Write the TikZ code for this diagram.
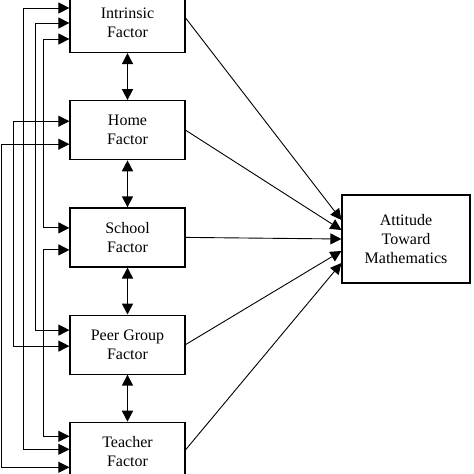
\documentclass[tikz,border=0pt]{standalone}
\usepackage{fontspec}
\setmainfont{Liberation Serif}
\usepackage{tikz}
\usetikzlibrary{positioning,arrows.meta}
\newcommand{\ecart}{47pt}
\newcommand{\larg}{115pt}
\tikzstyle{boite}=[draw,line width=1.2pt,minimum width=\larg,minimum height=59pt,align=center,inner sep=2pt,font=\fontsize{16}{19}\selectfont]
\tikzstyle{lien}=[line width=0.9pt,<->]
\tikzstyle{fleche}=[line width=0.9pt,->]
\begin{document}
\begin{tikzpicture}[x=1pt,y=1pt,>={Triangle[length=11pt,width=11pt]}]
\useasboundingbox (0,0) rectangle (474,-474);

\node[boite] (intr) at (127.5,-23) {Intrinsic\\Factor};
\node[boite,below=\ecart of intr] (home) {Home\\Factor};
\node[boite,below=\ecart of home] (school) {School\\Factor};
\node[boite,below=\ecart of school] (peer) {Peer Group\\Factor};
\node[boite,below=\ecart of peer] (teacher) {Teacher\\Factor};

\node[boite,minimum width=128pt,minimum height=88pt] (att) at (406,-239) {Attitude\\Toward\\Mathematics};

%liens entre facteurs voisins
\draw[line width=1.6pt,<->] (intr) -- (home);
\draw[line width=1.6pt,<->] (home) -- (school);
\draw[line width=1.6pt,<->] (school) -- (peer);
\draw[line width=1.6pt,<->] (peer) -- (teacher);

%liens a gauche
\draw[lien] ([yshift=-16pt]intr.west) -- ++(-26,0) |- ([yshift=9.5pt]school.west);
\draw[lien] ([yshift=-12.5pt]school.west) -- ++(-26,0) |- ([yshift=15.5pt]teacher.west);
\draw[lien] (intr.west) -- ++(-34,0) |- ([yshift=14.5pt]peer.west);
\draw[lien] ([yshift=9pt]home.west) -- ++(-56,0) |- ([yshift=-1.5pt]peer.west);
\draw[lien] ([yshift=15pt]intr.west) -- ++(-46,0) |- ([yshift=2.5pt]teacher.west);
\draw[lien] ([yshift=-14pt]home.west) -- ++(-68,0) |- ([yshift=-15.5pt]teacher.west);

%vers l'attitude
\draw[fleche] ([yshift=5pt]intr.east) -- ([yshift=19pt]att.west);
\draw[fleche] (home.east) -- ([yshift=9pt]att.west);
\draw[fleche] (school.east) -- (att.west);
\draw[fleche] (peer.east) -- ([yshift=-12pt]att.west);
\draw[fleche] ([yshift=2pt]teacher.east) -- ([yshift=-24pt]att.west);
\end{tikzpicture}
\end{document}
